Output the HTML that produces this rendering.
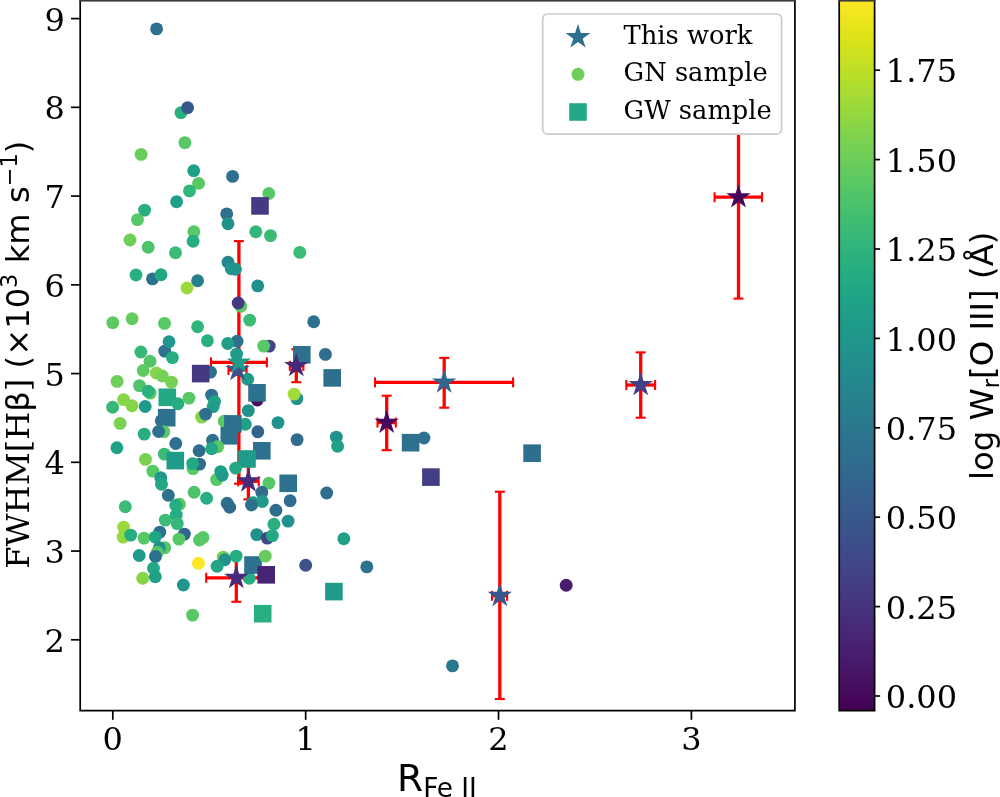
<!DOCTYPE html>
<html><head><meta charset="utf-8"><title>FWHM vs R_FeII</title>
<style>html,body{margin:0;padding:0;background:#fff;}svg{display:block;}</style>
</head><body>
<svg width="1000" height="797" viewBox="0 0 1000 797"><g stroke="#ff0000" stroke-width="3.30"><line x1="228.50" y1="370.00" x2="246.60" y2="370.00"/><line x1="237.55" y1="365.00" x2="237.55" y2="375.00"/><line x1="211.00" y1="362.40" x2="266.90" y2="362.40"/><line x1="238.90" y1="241.10" x2="238.90" y2="483.70"/><line x1="289.80" y1="365.90" x2="303.40" y2="365.90"/><line x1="296.30" y1="349.30" x2="296.30" y2="382.20"/><line x1="238.10" y1="481.30" x2="258.70" y2="481.30"/><line x1="248.40" y1="463.20" x2="248.40" y2="499.40"/><line x1="206.20" y1="577.80" x2="266.40" y2="577.80"/><line x1="236.30" y1="553.80" x2="236.30" y2="601.80"/><line x1="377.50" y1="422.60" x2="395.80" y2="422.60"/><line x1="386.70" y1="395.70" x2="386.70" y2="450.20"/><line x1="375.00" y1="382.40" x2="513.10" y2="382.40"/><line x1="444.20" y1="357.90" x2="444.20" y2="407.70"/><line x1="492.00" y1="595.80" x2="507.10" y2="595.80"/><line x1="499.80" y1="491.70" x2="499.80" y2="699.00"/><line x1="626.30" y1="385.00" x2="655.10" y2="385.00"/><line x1="640.70" y1="352.40" x2="640.70" y2="417.70"/><line x1="714.60" y1="197.20" x2="762.00" y2="197.20"/><line x1="738.50" y1="95.80" x2="738.50" y2="298.60"/></g><g stroke="#ff0000" stroke-width="2.10"><line x1="228.50" y1="365.00" x2="228.50" y2="375.00"/><line x1="246.60" y1="365.00" x2="246.60" y2="375.00"/><line x1="232.55" y1="365.00" x2="242.55" y2="365.00"/><line x1="232.55" y1="375.00" x2="242.55" y2="375.00"/><line x1="211.00" y1="357.40" x2="211.00" y2="367.40"/><line x1="266.90" y1="357.40" x2="266.90" y2="367.40"/><line x1="233.90" y1="241.10" x2="243.90" y2="241.10"/><line x1="233.90" y1="483.70" x2="243.90" y2="483.70"/><line x1="289.80" y1="360.90" x2="289.80" y2="370.90"/><line x1="303.40" y1="360.90" x2="303.40" y2="370.90"/><line x1="291.30" y1="349.30" x2="301.30" y2="349.30"/><line x1="291.30" y1="382.20" x2="301.30" y2="382.20"/><line x1="238.10" y1="476.30" x2="238.10" y2="486.30"/><line x1="258.70" y1="476.30" x2="258.70" y2="486.30"/><line x1="243.40" y1="463.20" x2="253.40" y2="463.20"/><line x1="243.40" y1="499.40" x2="253.40" y2="499.40"/><line x1="206.20" y1="572.80" x2="206.20" y2="582.80"/><line x1="266.40" y1="572.80" x2="266.40" y2="582.80"/><line x1="231.30" y1="553.80" x2="241.30" y2="553.80"/><line x1="231.30" y1="601.80" x2="241.30" y2="601.80"/><line x1="377.50" y1="417.60" x2="377.50" y2="427.60"/><line x1="395.80" y1="417.60" x2="395.80" y2="427.60"/><line x1="381.70" y1="395.70" x2="391.70" y2="395.70"/><line x1="381.70" y1="450.20" x2="391.70" y2="450.20"/><line x1="375.00" y1="377.40" x2="375.00" y2="387.40"/><line x1="513.10" y1="377.40" x2="513.10" y2="387.40"/><line x1="439.20" y1="357.90" x2="449.20" y2="357.90"/><line x1="439.20" y1="407.70" x2="449.20" y2="407.70"/><line x1="492.00" y1="590.80" x2="492.00" y2="600.80"/><line x1="507.10" y1="590.80" x2="507.10" y2="600.80"/><line x1="494.80" y1="491.70" x2="504.80" y2="491.70"/><line x1="494.80" y1="699.00" x2="504.80" y2="699.00"/><line x1="626.30" y1="380.00" x2="626.30" y2="390.00"/><line x1="655.10" y1="380.00" x2="655.10" y2="390.00"/><line x1="635.70" y1="352.40" x2="645.70" y2="352.40"/><line x1="635.70" y1="417.70" x2="645.70" y2="417.70"/><line x1="714.60" y1="192.20" x2="714.60" y2="202.20"/><line x1="762.00" y1="192.20" x2="762.00" y2="202.20"/><line x1="733.50" y1="95.80" x2="743.50" y2="95.80"/><line x1="733.50" y1="298.60" x2="743.50" y2="298.60"/></g><g><circle cx="156.60" cy="28.90" r="6.45" fill="#2d718e"/><circle cx="181.00" cy="112.60" r="6.45" fill="#29af7f"/><circle cx="187.60" cy="107.70" r="6.45" fill="#375a8c"/><circle cx="141.10" cy="154.40" r="6.45" fill="#69cd5b"/><circle cx="184.90" cy="142.60" r="6.45" fill="#58c765"/><circle cx="193.70" cy="170.70" r="6.45" fill="#1fa188"/><circle cx="198.60" cy="183.40" r="6.45" fill="#58c765"/><circle cx="189.50" cy="190.90" r="6.45" fill="#32b67a"/><circle cx="176.60" cy="201.70" r="6.45" fill="#1f9f88"/><circle cx="144.60" cy="210.10" r="6.45" fill="#29af7f"/><circle cx="137.50" cy="219.60" r="6.45" fill="#58c765"/><circle cx="130.00" cy="240.00" r="6.45" fill="#6ece58"/><circle cx="148.20" cy="247.30" r="6.45" fill="#4ec36b"/><circle cx="193.90" cy="231.80" r="6.45" fill="#58c765"/><circle cx="193.10" cy="241.30" r="6.45" fill="#26ad81"/><circle cx="175.50" cy="252.80" r="6.45" fill="#3bbb75"/><circle cx="232.60" cy="176.40" r="6.45" fill="#2d718e"/><circle cx="268.80" cy="193.50" r="6.45" fill="#58c765"/><rect x="251.20" y="197.10" width="17.60" height="17.60" fill="#443a83"/><circle cx="226.70" cy="213.90" r="6.45" fill="#2d718e"/><circle cx="228.00" cy="223.70" r="6.45" fill="#21918c"/><circle cx="255.80" cy="231.80" r="6.45" fill="#32b67a"/><circle cx="270.50" cy="235.60" r="6.45" fill="#3bbb75"/><circle cx="299.80" cy="252.40" r="6.45" fill="#3bbb75"/><circle cx="136.00" cy="275.00" r="6.45" fill="#29af7f"/><circle cx="152.50" cy="278.90" r="6.45" fill="#2d718e"/><circle cx="161.00" cy="274.80" r="6.45" fill="#22a884"/><circle cx="197.60" cy="280.70" r="6.45" fill="#27808e"/><circle cx="187.00" cy="288.00" r="6.45" fill="#9bd93c"/><circle cx="112.80" cy="322.60" r="6.45" fill="#5ec962"/><circle cx="132.10" cy="318.80" r="6.45" fill="#63cb5f"/><circle cx="164.50" cy="323.40" r="6.45" fill="#58c765"/><circle cx="197.60" cy="326.70" r="6.45" fill="#2fb47c"/><circle cx="207.40" cy="340.70" r="6.45" fill="#29af7f"/><circle cx="164.70" cy="351.10" r="6.45" fill="#2d718e"/><circle cx="169.00" cy="341.70" r="6.45" fill="#1f978b"/><circle cx="172.40" cy="357.60" r="6.45" fill="#26ad81"/><circle cx="140.90" cy="352.00" r="6.45" fill="#37b878"/><circle cx="150.00" cy="361.20" r="6.45" fill="#52c569"/><circle cx="143.20" cy="370.50" r="6.45" fill="#5ec962"/><circle cx="156.30" cy="373.00" r="6.45" fill="#86d549"/><circle cx="162.30" cy="376.00" r="6.45" fill="#75d054"/><circle cx="171.50" cy="382.10" r="6.45" fill="#75d054"/><circle cx="228.00" cy="262.20" r="6.45" fill="#24868e"/><circle cx="231.30" cy="268.80" r="6.45" fill="#1f958b"/><circle cx="235.40" cy="269.20" r="6.45" fill="#1f958b"/><circle cx="257.70" cy="285.90" r="6.45" fill="#21918c"/><circle cx="240.80" cy="306.30" r="6.45" fill="#58c765"/><circle cx="238.20" cy="303.00" r="6.45" fill="#443a83"/><circle cx="249.70" cy="320.10" r="6.45" fill="#3bbb75"/><circle cx="313.70" cy="321.80" r="6.45" fill="#2e6f8e"/><circle cx="237.10" cy="341.30" r="6.45" fill="#2d718e"/><circle cx="227.70" cy="343.50" r="6.45" fill="#1f9f88"/><circle cx="269.20" cy="346.10" r="6.45" fill="#414487"/><circle cx="263.70" cy="346.10" r="6.45" fill="#58c765"/><circle cx="236.60" cy="354.10" r="6.45" fill="#1e9c89"/><circle cx="325.40" cy="354.40" r="6.45" fill="#2f6c8e"/><rect x="293.00" y="346.00" width="17.60" height="17.60" fill="#2d718e"/><circle cx="210.50" cy="372.10" r="6.45" fill="#2d718e"/><rect x="191.90" y="364.80" width="17.60" height="17.60" fill="#443a83"/><rect x="323.40" y="369.10" width="17.60" height="17.60" fill="#2e6f8e"/><circle cx="247.70" cy="379.20" r="6.45" fill="#1e9c89"/><circle cx="257.30" cy="400.00" r="6.45" fill="#471365"/><rect x="248.20" y="384.00" width="17.60" height="17.60" fill="#2d718e"/><circle cx="117.10" cy="381.40" r="6.45" fill="#6ece58"/><circle cx="139.50" cy="385.60" r="6.45" fill="#4ec36b"/><circle cx="150.20" cy="393.10" r="6.45" fill="#58c765"/><circle cx="148.20" cy="391.30" r="6.45" fill="#2cb17e"/><rect x="158.50" y="388.50" width="17.60" height="17.60" fill="#22a884"/><circle cx="177.90" cy="403.70" r="6.45" fill="#26ad81"/><circle cx="189.00" cy="398.10" r="6.45" fill="#58c765"/><circle cx="123.60" cy="399.60" r="6.45" fill="#86d549"/><circle cx="132.00" cy="405.70" r="6.45" fill="#86d549"/><circle cx="112.60" cy="407.20" r="6.45" fill="#37b878"/><circle cx="145.20" cy="406.50" r="6.45" fill="#1e9c89"/><circle cx="161.30" cy="420.70" r="6.45" fill="#2d718e"/><rect x="157.90" y="408.90" width="17.60" height="17.60" fill="#2d718e"/><circle cx="120.10" cy="423.40" r="6.45" fill="#7ad151"/><circle cx="144.20" cy="434.10" r="6.45" fill="#26ad81"/><circle cx="163.80" cy="431.80" r="6.45" fill="#58c765"/><circle cx="158.60" cy="431.50" r="6.45" fill="#2d718e"/><circle cx="175.80" cy="443.50" r="6.45" fill="#2d718e"/><circle cx="116.90" cy="447.80" r="6.45" fill="#1fa188"/><circle cx="164.30" cy="454.10" r="6.45" fill="#3bbb75"/><rect x="166.50" y="451.80" width="17.60" height="17.60" fill="#1e9c89"/><circle cx="145.50" cy="459.40" r="6.45" fill="#7ad151"/><circle cx="152.80" cy="471.10" r="6.45" fill="#58c765"/><circle cx="160.80" cy="477.70" r="6.45" fill="#1f978b"/><circle cx="161.50" cy="484.20" r="6.45" fill="#22a884"/><circle cx="168.30" cy="495.20" r="6.45" fill="#2d718e"/><circle cx="179.40" cy="504.30" r="6.45" fill="#58c765"/><circle cx="175.80" cy="505.30" r="6.45" fill="#26ad81"/><circle cx="125.30" cy="506.80" r="6.45" fill="#3bbb75"/><circle cx="123.60" cy="527.10" r="6.45" fill="#9bd93c"/><circle cx="123.10" cy="537.10" r="6.45" fill="#95d840"/><circle cx="130.70" cy="535.10" r="6.45" fill="#26ad81"/><circle cx="144.00" cy="538.10" r="6.45" fill="#58c765"/><circle cx="165.30" cy="520.10" r="6.45" fill="#3bbb75"/><circle cx="176.30" cy="515.00" r="6.45" fill="#26ad81"/><circle cx="177.30" cy="523.60" r="6.45" fill="#37b878"/><circle cx="159.80" cy="532.10" r="6.45" fill="#2d718e"/><circle cx="155.30" cy="537.10" r="6.45" fill="#21a685"/><circle cx="184.40" cy="534.10" r="6.45" fill="#31678e"/><circle cx="178.90" cy="539.10" r="6.45" fill="#58c765"/><circle cx="164.80" cy="547.70" r="6.45" fill="#58c765"/><circle cx="159.30" cy="547.70" r="6.45" fill="#21918c"/><circle cx="157.30" cy="552.20" r="6.45" fill="#58c765"/><circle cx="155.50" cy="556.40" r="6.45" fill="#2d718e"/><circle cx="139.20" cy="555.50" r="6.45" fill="#1e9c89"/><circle cx="153.50" cy="568.30" r="6.45" fill="#22a884"/><circle cx="155.30" cy="576.80" r="6.45" fill="#1fa188"/><circle cx="142.70" cy="578.30" r="6.45" fill="#86d549"/><circle cx="183.40" cy="585.00" r="6.45" fill="#1f978b"/><circle cx="211.60" cy="395.10" r="6.45" fill="#2d718e"/><circle cx="214.60" cy="401.60" r="6.45" fill="#20a386"/><circle cx="213.10" cy="406.60" r="6.45" fill="#1f9f88"/><circle cx="201.60" cy="417.10" r="6.45" fill="#86d549"/><circle cx="205.60" cy="414.10" r="6.45" fill="#2d718e"/><circle cx="248.30" cy="410.60" r="6.45" fill="#21918c"/><circle cx="245.30" cy="424.20" r="6.45" fill="#1fa188"/><circle cx="224.20" cy="421.20" r="6.45" fill="#58c765"/><rect x="224.10" y="415.10" width="17.60" height="17.60" fill="#2d718e"/><rect x="220.50" y="427.00" width="17.60" height="17.60" fill="#2d718e"/><circle cx="257.80" cy="431.70" r="6.45" fill="#32648e"/><circle cx="278.00" cy="422.60" r="6.45" fill="#21918c"/><rect x="253.00" y="442.00" width="17.60" height="17.60" fill="#2d718e"/><rect x="238.20" y="450.20" width="17.60" height="17.60" fill="#1e9c89"/><circle cx="212.60" cy="440.20" r="6.45" fill="#2d718e"/><circle cx="217.70" cy="446.80" r="6.45" fill="#58c765"/><circle cx="211.60" cy="448.80" r="6.45" fill="#22a884"/><circle cx="199.10" cy="450.80" r="6.45" fill="#2f6c8e"/><circle cx="193.00" cy="468.60" r="6.45" fill="#58c765"/><circle cx="199.60" cy="464.10" r="6.45" fill="#2f6c8e"/><circle cx="192.60" cy="463.60" r="6.45" fill="#22a884"/><circle cx="216.60" cy="479.60" r="6.45" fill="#58c765"/><circle cx="220.70" cy="471.60" r="6.45" fill="#1e9c89"/><circle cx="222.20" cy="475.10" r="6.45" fill="#1e9c89"/><circle cx="235.70" cy="468.10" r="6.45" fill="#22a884"/><circle cx="268.90" cy="483.10" r="6.45" fill="#58c765"/><circle cx="261.80" cy="492.20" r="6.45" fill="#2f6c8e"/><circle cx="252.80" cy="502.60" r="6.45" fill="#1e9c89"/><circle cx="262.30" cy="501.50" r="6.45" fill="#1e9c89"/><circle cx="251.50" cy="505.00" r="6.45" fill="#2d718e"/><circle cx="194.10" cy="492.20" r="6.45" fill="#4ec36b"/><circle cx="206.60" cy="498.20" r="6.45" fill="#26ad81"/><circle cx="227.20" cy="503.20" r="6.45" fill="#2d718e"/><circle cx="229.70" cy="507.20" r="6.45" fill="#2f6c8e"/><circle cx="275.90" cy="510.20" r="6.45" fill="#2f6c8e"/><circle cx="273.90" cy="524.30" r="6.45" fill="#29af7f"/><circle cx="236.20" cy="556.10" r="6.45" fill="#26ad81"/><circle cx="249.30" cy="578.20" r="6.45" fill="#26ad81"/><rect x="244.20" y="556.20" width="17.60" height="17.60" fill="#2d718e"/><rect x="257.40" y="566.00" width="17.60" height="17.60" fill="#482475"/><circle cx="265.30" cy="556.10" r="6.45" fill="#69cd5b"/><circle cx="256.80" cy="534.60" r="6.45" fill="#21918c"/><circle cx="267.30" cy="538.10" r="6.45" fill="#414487"/><circle cx="272.40" cy="535.60" r="6.45" fill="#22a884"/><circle cx="199.50" cy="540.00" r="6.45" fill="#58c765"/><circle cx="203.00" cy="537.50" r="6.45" fill="#58c765"/><circle cx="198.40" cy="563.20" r="6.45" fill="#fde725"/><circle cx="223.20" cy="557.10" r="6.45" fill="#75d054"/><circle cx="224.70" cy="559.70" r="6.45" fill="#21918c"/><circle cx="217.10" cy="566.20" r="6.45" fill="#20a386"/><circle cx="192.60" cy="615.10" r="6.45" fill="#58c765"/><rect x="253.90" y="604.90" width="17.60" height="17.60" fill="#29af7f"/><circle cx="296.90" cy="398.60" r="6.45" fill="#21918c"/><circle cx="294.10" cy="394.10" r="6.45" fill="#a2da37"/><circle cx="297.10" cy="439.60" r="6.45" fill="#2f6c8e"/><circle cx="336.30" cy="437.10" r="6.45" fill="#21918c"/><circle cx="337.60" cy="446.30" r="6.45" fill="#1fa188"/><rect x="279.40" y="474.50" width="17.60" height="17.60" fill="#2d718e"/><circle cx="326.70" cy="493.00" r="6.45" fill="#2f6c8e"/><circle cx="290.10" cy="500.70" r="6.45" fill="#2f6c8e"/><circle cx="288.10" cy="521.10" r="6.45" fill="#21918c"/><circle cx="305.70" cy="565.20" r="6.45" fill="#3b528b"/><circle cx="343.80" cy="538.80" r="6.45" fill="#1fa188"/><rect x="325.10" y="582.80" width="17.60" height="17.60" fill="#1e9c89"/><circle cx="366.80" cy="566.90" r="6.45" fill="#2c738e"/><circle cx="424.00" cy="438.00" r="6.45" fill="#2d718e"/><rect x="401.80" y="433.90" width="17.60" height="17.60" fill="#2d718e"/><rect x="422.10" y="468.30" width="17.60" height="17.60" fill="#433e85"/><rect x="523.30" y="444.40" width="17.60" height="17.60" fill="#2e6f8e"/><circle cx="452.50" cy="665.90" r="6.45" fill="#2a788e"/><circle cx="566.20" cy="585.20" r="6.45" fill="#481d6f"/></g><g><path d="M237.55,357.20 L234.68,366.04 L225.38,366.04 L232.90,371.51 L230.03,380.36 L237.55,374.89 L245.07,380.36 L242.20,371.51 L249.72,366.04 L240.42,366.04 Z" fill="#3b528b"/><path d="M238.90,349.60 L236.03,358.44 L226.73,358.44 L234.25,363.91 L231.38,372.76 L238.90,367.29 L246.42,372.76 L243.55,363.91 L251.07,358.44 L241.77,358.44 Z" fill="#1e9c89"/><path d="M296.30,353.10 L293.43,361.94 L284.13,361.94 L291.65,367.41 L288.78,376.26 L296.30,370.79 L303.82,376.26 L300.95,367.41 L308.47,361.94 L299.17,361.94 Z" fill="#482878"/><path d="M248.40,468.50 L245.53,477.34 L236.23,477.34 L243.75,482.81 L240.88,491.66 L248.40,486.19 L255.92,491.66 L253.05,482.81 L260.57,477.34 L251.27,477.34 Z" fill="#472a7a"/><path d="M236.30,565.00 L233.43,573.84 L224.13,573.84 L231.65,579.31 L228.78,588.16 L236.30,582.69 L243.82,588.16 L240.95,579.31 L248.47,573.84 L239.17,573.84 Z" fill="#472a7a"/><path d="M386.70,409.80 L383.83,418.64 L374.53,418.64 L382.05,424.11 L379.18,432.96 L386.70,427.49 L394.22,432.96 L391.35,424.11 L398.87,418.64 L389.57,418.64 Z" fill="#46085c"/><path d="M444.20,369.60 L441.33,378.44 L432.03,378.44 L439.55,383.91 L436.68,392.76 L444.20,387.29 L451.72,392.76 L448.85,383.91 L456.37,378.44 L447.07,378.44 Z" fill="#31678e"/><path d="M499.80,583.00 L496.93,591.84 L487.63,591.84 L495.15,597.31 L492.28,606.16 L499.80,600.69 L507.32,606.16 L504.45,597.31 L511.97,591.84 L502.67,591.84 Z" fill="#38588c"/><path d="M640.70,372.20 L637.83,381.04 L628.53,381.04 L636.05,386.51 L633.18,395.36 L640.70,389.89 L648.22,395.36 L645.35,386.51 L652.87,381.04 L643.57,381.04 Z" fill="#424086"/><path d="M738.50,184.40 L735.63,193.24 L726.33,193.24 L733.85,198.71 L730.98,207.56 L738.50,202.09 L746.02,207.56 L743.15,198.71 L750.67,193.24 L741.37,193.24 Z" fill="#46085c"/></g><path d="M80.20,0 V710.60 H794.90 V0" fill="none" stroke="#000" stroke-width="1.7"/><rect x="79.35" y="0" width="716.40" height="1.6" fill="#3c3c3c"/><g stroke="#000" stroke-width="1.7"><line x1="112.80" y1="710.60" x2="112.80" y2="719.80"/><line x1="305.67" y1="710.60" x2="305.67" y2="719.80"/><line x1="498.54" y1="710.60" x2="498.54" y2="719.80"/><line x1="691.40" y1="710.60" x2="691.40" y2="719.80"/><line x1="71.00" y1="639.80" x2="80.20" y2="639.80"/><line x1="71.00" y1="551.06" x2="80.20" y2="551.06"/><line x1="71.00" y1="462.31" x2="80.20" y2="462.31"/><line x1="71.00" y1="373.57" x2="80.20" y2="373.57"/><line x1="71.00" y1="284.83" x2="80.20" y2="284.83"/><line x1="71.00" y1="196.08" x2="80.20" y2="196.08"/><line x1="71.00" y1="107.34" x2="80.20" y2="107.34"/><line x1="71.00" y1="18.60" x2="80.20" y2="18.60"/></g><g font-family="DejaVu Serif, Liberation Serif, serif" font-size="32.0" fill="#000"><text x="112.80" y="749.50" text-anchor="middle">0</text><text x="305.67" y="749.50" text-anchor="middle">1</text><text x="498.54" y="749.50" text-anchor="middle">2</text><text x="691.40" y="749.50" text-anchor="middle">3</text><text x="64.80" y="651.90" text-anchor="end">2</text><text x="64.80" y="563.16" text-anchor="end">3</text><text x="64.80" y="474.41" text-anchor="end">4</text><text x="64.80" y="385.67" text-anchor="end">5</text><text x="64.80" y="296.93" text-anchor="end">6</text><text x="64.80" y="208.18" text-anchor="end">7</text><text x="64.80" y="119.44" text-anchor="end">8</text><text x="64.80" y="30.70" text-anchor="end">9</text></g><defs><linearGradient id="vg" x1="0" y1="0" x2="0" y2="1"><stop offset="0.000" stop-color="#fde725"/><stop offset="0.050" stop-color="#dfe318"/><stop offset="0.100" stop-color="#bddf26"/><stop offset="0.150" stop-color="#9bd93c"/><stop offset="0.200" stop-color="#7ad151"/><stop offset="0.250" stop-color="#5ec962"/><stop offset="0.300" stop-color="#44bf70"/><stop offset="0.350" stop-color="#2fb47c"/><stop offset="0.400" stop-color="#22a884"/><stop offset="0.450" stop-color="#1e9c89"/><stop offset="0.500" stop-color="#21918c"/><stop offset="0.550" stop-color="#25848e"/><stop offset="0.600" stop-color="#2a788e"/><stop offset="0.650" stop-color="#2f6c8e"/><stop offset="0.700" stop-color="#355f8d"/><stop offset="0.750" stop-color="#3b528b"/><stop offset="0.800" stop-color="#414487"/><stop offset="0.850" stop-color="#463480"/><stop offset="0.900" stop-color="#482475"/><stop offset="0.950" stop-color="#471365"/><stop offset="1.000" stop-color="#440154"/></linearGradient></defs><rect x="839.20" y="0" width="35.40" height="710.60" fill="url(#vg)"/><path d="M839.20,0 V710.60 H874.60 V0" fill="none" stroke="#000" stroke-width="1.7"/><rect x="838.35" y="0" width="37.10" height="1.6" fill="#3c3c3c"/><g stroke="#000" stroke-width="1.7"><line x1="874.60" y1="696.00" x2="880.10" y2="696.00"/><line x1="874.60" y1="606.60" x2="880.10" y2="606.60"/><line x1="874.60" y1="517.20" x2="880.10" y2="517.20"/><line x1="874.60" y1="427.80" x2="880.10" y2="427.80"/><line x1="874.60" y1="338.40" x2="880.10" y2="338.40"/><line x1="874.60" y1="249.00" x2="880.10" y2="249.00"/><line x1="874.60" y1="159.60" x2="880.10" y2="159.60"/><line x1="874.60" y1="70.20" x2="880.10" y2="70.20"/></g><g font-family="DejaVu Serif, Liberation Serif, serif" font-size="32.0" fill="#000"><text x="885.80" y="708.10">0.00</text><text x="885.80" y="618.70">0.25</text><text x="885.80" y="529.30">0.50</text><text x="885.80" y="439.90">0.75</text><text x="885.80" y="350.50">1.00</text><text x="885.80" y="261.10">1.25</text><text x="885.80" y="171.70">1.50</text><text x="885.80" y="82.30">1.75</text></g><text transform="translate(28.8,568.8) rotate(-90)" font-size="32.2" fill="#000"><tspan font-family="DejaVu Serif, Liberation Serif, serif">FWHM[H</tspan><tspan font-family="DejaVu Sans, Liberation Sans, sans-serif">β</tspan><tspan font-family="DejaVu Serif, Liberation Serif, serif">] </tspan><tspan font-family="DejaVu Sans, Liberation Sans, sans-serif">(×10</tspan><tspan font-family="DejaVu Sans, Liberation Sans, sans-serif" font-size="22.5" dy="-12.3">3</tspan><tspan font-family="DejaVu Sans, Liberation Sans, sans-serif" dy="12.3"> km s</tspan><tspan font-family="DejaVu Sans, Liberation Sans, sans-serif" font-size="22.5" dy="-12.3">−1</tspan><tspan font-family="DejaVu Sans, Liberation Sans, sans-serif" dy="12.3">)</tspan></text><text x="397.0" y="790.6" font-family="DejaVu Sans, Liberation Sans, sans-serif" font-size="37.6" fill="#000">R<tspan font-size="26.3" dy="6.2">Fe II</tspan></text><text transform="translate(993.3,480) rotate(-90)" font-family="DejaVu Sans, Liberation Sans, sans-serif" font-size="32.4" fill="#000">log W<tspan font-size="22.7" dy="6">r</tspan><tspan dy="-6">[O III] (Å)</tspan></text><rect x="542.7" y="14.0" width="238.9" height="120.2" rx="5" ry="5" fill="#fff" stroke="#cccccc" stroke-width="1.7"/><path d="M578.00,24.10 L575.08,33.08 L565.64,33.08 L573.28,38.63 L570.36,47.62 L578.00,42.07 L585.64,47.62 L582.72,38.63 L590.36,33.08 L580.92,33.08 Z" fill="#2e6f8e"/><circle cx="578.0" cy="74.3" r="6.5" fill="#6ece58"/><rect x="569.20" y="103.20" width="17.6" height="17.6" fill="#22a884"/><g font-family="DejaVu Serif, Liberation Serif, serif" font-size="25.75" fill="#000"><text x="623.6" y="43.7">This work</text><text x="623.6" y="81.0">GN sample</text><text x="623.6" y="118.8">GW sample</text></g></svg>
</body></html>
